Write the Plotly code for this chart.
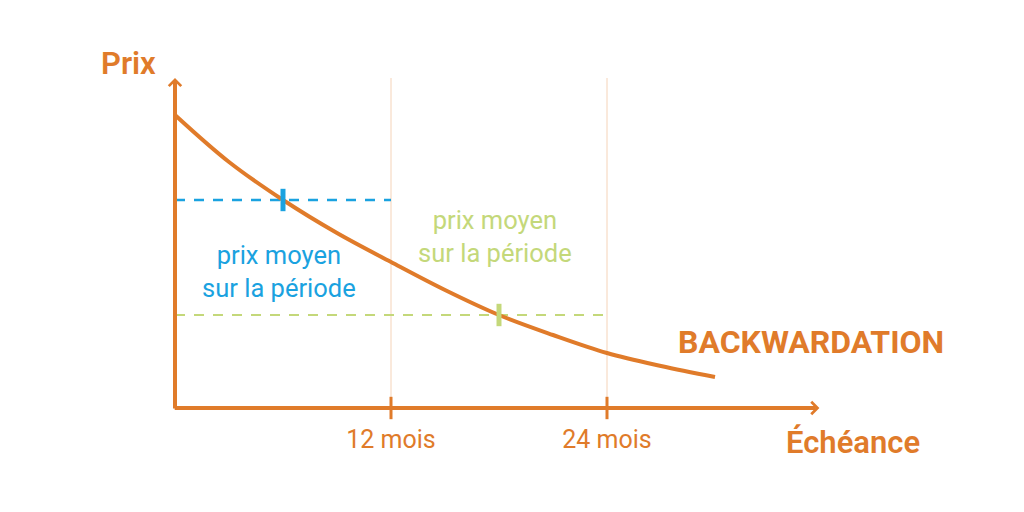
import plotly.graph_objects as go

## courbe de backwardation (échéance en mois, prix en unités arbitraires)
months = [0, 3, 6, 9, 12, 15, 18, 21, 24, 27, 30]
price = [29.3, 24.6, 20.8, 17.5, 14.6, 11.8, 9.3, 7.3, 5.5, 4.2, 3.1]

## prix moyens sur chaque période
avg_blue = dict(x_end=12, y=20.8, tick_x=6)
avg_green = dict(x_end=24, y=9.3, tick_x=18)

tick_vals = [12, 24]
tick_text = ["12 mois", "24 mois"]

x_max = 35.8
y_max = 33

ORANGE = "#E07B2A"
BLUE = "#1AA2E0"
GREEN = "#C4D87A"
GRID = "#F5D3B8"
FONT = "Roboto"

fig = go.Figure()

## lignes verticales de repère (12 et 24 mois)
for tv in tick_vals:
	fig.add_shape(type="line", x0=tv, x1=tv, y0=0, y1=y_max, xref="x", yref="y",
		line=dict(color=GRID, width=1), layer="below")

## lignes pointillées des prix moyens
for avg, col in [(avg_blue, BLUE), (avg_green, GREEN)]:
	fig.add_trace(go.Scatter(
		x=[0, avg["x_end"]],
		y=[avg["y"], avg["y"]],
		mode="lines",
		line=dict(color=col, width=2.5 if col == BLUE else 2, dash="10px,9px"),
		hoverinfo="skip",
		)
	)

## la courbe
fig.add_trace(go.Scatter(
	x=months,
	y=price,
	mode="lines",
	line=dict(color=ORANGE, width=4, shape="spline"),
	hoverinfo="skip",
	)
)

## petits repères sur la courbe
for avg, col in [(avg_blue, BLUE), (avg_green, GREEN)]:
	fig.add_trace(go.Scatter(
		x=[avg["tick_x"]],
		y=[avg["y"]],
		mode="markers",
		marker=dict(symbol="line-ns", size=16, line=dict(color=col, width=5)),
		hoverinfo="skip",
		)
	)

## graduations de l'axe des échéances
fig.add_trace(go.Scatter(
	x=tick_vals,
	y=[0] * len(tick_vals),
	mode="markers",
	marker=dict(symbol="line-ns", size=16, line=dict(color=ORANGE, width=3)),
	hoverinfo="skip",
	cliponaxis=False,
	)
)

annotations = [
	## axes fléchés
	dict(x=x_max, y=0, ax=-0.1, ay=0, xref="x", yref="y", axref="x", ayref="y",
		showarrow=True, arrowhead=4, arrowsize=0.6, arrowwidth=4, arrowcolor=ORANGE, text=""),
	dict(x=0, y=y_max, ax=0, ay=-0.2, xref="x", yref="y", axref="x", ayref="y",
		showarrow=True, arrowhead=4, arrowsize=0.6, arrowwidth=4, arrowcolor=ORANGE, text=""),
	## textes
	dict(x=-0.072, y=1.045, xref="paper", yref="paper", text="Prix", showarrow=False,
		xanchor="center", yanchor="middle",
		font=dict(family=FONT, size=31, color=ORANGE, weight=600)),
	dict(x=1.046, y=-0.106, xref="paper", yref="paper", text="Échéance", showarrow=False,
		xanchor="center", yanchor="middle",
		font=dict(family=FONT, size=31, color=ORANGE, weight=600)),
	dict(x=27.85, y=6.6, xref="x", yref="y", text="BACKWARDATION", showarrow=False,
		xanchor="left", yanchor="middle",
		font=dict(family=FONT, size=32, color=ORANGE, weight=700)),
	dict(x=5.8, y=13.7, xref="x", yref="y", text="prix moyen<br>sur la période", showarrow=False,
		xanchor="center", yanchor="middle",
		font=dict(family=FONT, size=25.5, color=BLUE)),
	dict(x=17.8, y=17.2, xref="x", yref="y", text="prix moyen<br>sur la période", showarrow=False,
		xanchor="center", yanchor="middle",
		font=dict(family=FONT, size=25.5, color=GREEN)),
]

fig.update_layout(
	width=1024,
	height=512,
	margin=dict(l=167, r=209, t=70, b=112),
	paper_bgcolor="white",
	plot_bgcolor="white",
	showlegend=False,
	annotations=annotations,
	xaxis=dict(
		range=[0, 36],
		tickvals=tick_vals,
		ticktext=tick_text,
		showgrid=False,
		zeroline=False,
		showline=False,
		ticks="",
		ticklabelstandoff=14,
		tickfont=dict(family=FONT, size=25, color=ORANGE),
		fixedrange=True,
	),
	yaxis=dict(
		range=[0, y_max],
		showgrid=False,
		zeroline=False,
		showline=False,
		showticklabels=False,
		ticks="",
		fixedrange=True,
	),
)

fig.write_html("out.html")
